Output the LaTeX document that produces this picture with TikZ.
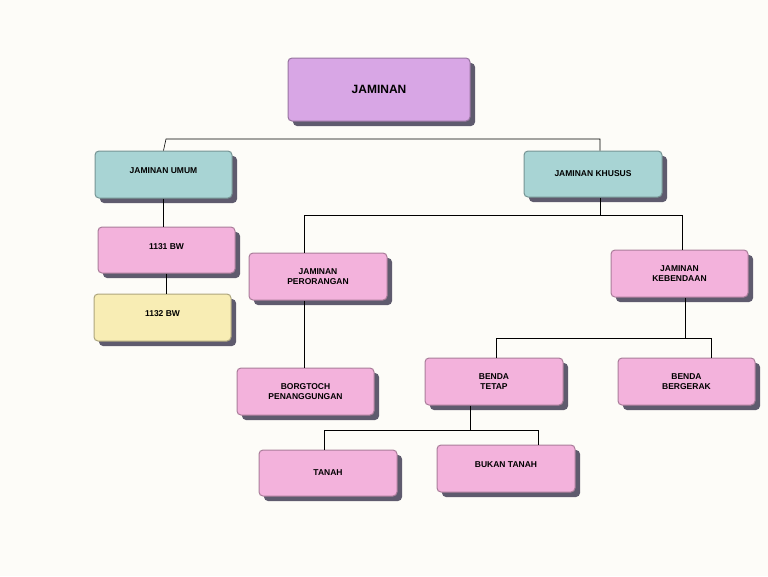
\documentclass[tikz,border=0pt]{standalone}
\usepackage{fontspec}
\setmainfont{Liberation Sans}
\begin{document}
\begin{tikzpicture}[x=1pt,y=-1pt,
  box/.style={draw=#1!70!black, line width=1pt, rounded corners=4pt, fill=#1, align=center, font=\bfseries\fontsize{8.5}{10}\selectfont, inner sep=0pt},
  bx/.style args={#1/#2/#3/#4}{minimum width=#3pt, minimum height=#4pt},
  conn/.style={draw=black, line width=0.6pt}]
\definecolor{bg}{HTML}{FDFCF8}
\definecolor{purp}{HTML}{D8A6E5}
\definecolor{teal}{HTML}{A8D4D4}
\definecolor{pink}{HTML}{F3B2DC}
\definecolor{yel}{HTML}{F8EDB4}
\definecolor{shd}{HTML}{5F5B6E}
\fill[bg] (0,0) rectangle (768,576);
\useasboundingbox (0,0) rectangle (768,576);
\newcommand{\mybox}[7]{% name, x1,y1,x2,y2,color,text
  \fill[shd, rounded corners=4pt] (#2+5,#3+5) rectangle (#4+5,#5+5);
  \node[box=#6, minimum width={#4-#2}, minimum height={#5-#3}] (#1) at ({(#2+#4)/2},{(#3+#5)/2}) {#7};}
\mybox{jam}{288}{58}{470}{121}{purp}{\fontsize{12}{14}\selectfont JAMINAN}
\mybox{umum}{95}{151}{232}{198}{teal}{JAMINAN UMUM\\[-6pt]\strut}
\mybox{khusus}{524}{151}{662}{197}{teal}{JAMINAN KHUSUS}
\mybox{b1131}{98}{227}{235}{273}{pink}{1131 BW\\[-6pt]\strut}
\mybox{b1132}{94}{294}{231}{341}{yel}{1132 BW\\[-6pt]\strut}
\mybox{pero}{249}{253}{387}{300}{pink}{JAMINAN\\PERORANGAN}
\mybox{kebe}{611}{250}{748}{297}{pink}{JAMINAN\\KEBENDAAN}
\mybox{borg}{237}{368}{374}{415}{pink}{BORGTOCH\\PENANGGUNGAN}
\mybox{tetap}{425}{358}{563}{405}{pink}{BENDA\\TETAP}
\mybox{gerak}{618}{358}{755}{405}{pink}{BENDA\\BERGERAK}
\mybox{tanah}{259}{450}{397}{496}{pink}{TANAH}
\mybox{bukan}{437}{445}{575}{492}{pink}{BUKAN TANAH\\[-6pt]\strut}
\draw[conn] (umum.north) -- (166,139) -- (600,139) -- (khusus.north -| 600,0);
\draw[conn] (umum.south) -- (b1131.north -| umum.south);
\draw[conn] (b1131.south -| 166,0) -- (b1132.north -| 166,0);
\draw[conn] (khusus.south -| 600,0) -- (600,215);
\draw[conn] (pero.north -| 304,0) -- (304,215) -- (682,215) -- (kebe.north -| 682,0);
\draw[conn] (pero.south -| 304,0) -- (borg.north -| 304,0);
\draw[conn] (kebe.south -| 685,0) -- (685,338);
\draw[conn] (tetap.north -| 496,0) -- (496,338) -- (711,338) -- (gerak.north -| 711,0);
\draw[conn] (tetap.south -| 470,0) -- (470,430);
\draw[conn] (tanah.north -| 324,0) -- (324,430) -- (538,430) -- (bukan.north -| 538,0);
\end{tikzpicture}
\end{document}
